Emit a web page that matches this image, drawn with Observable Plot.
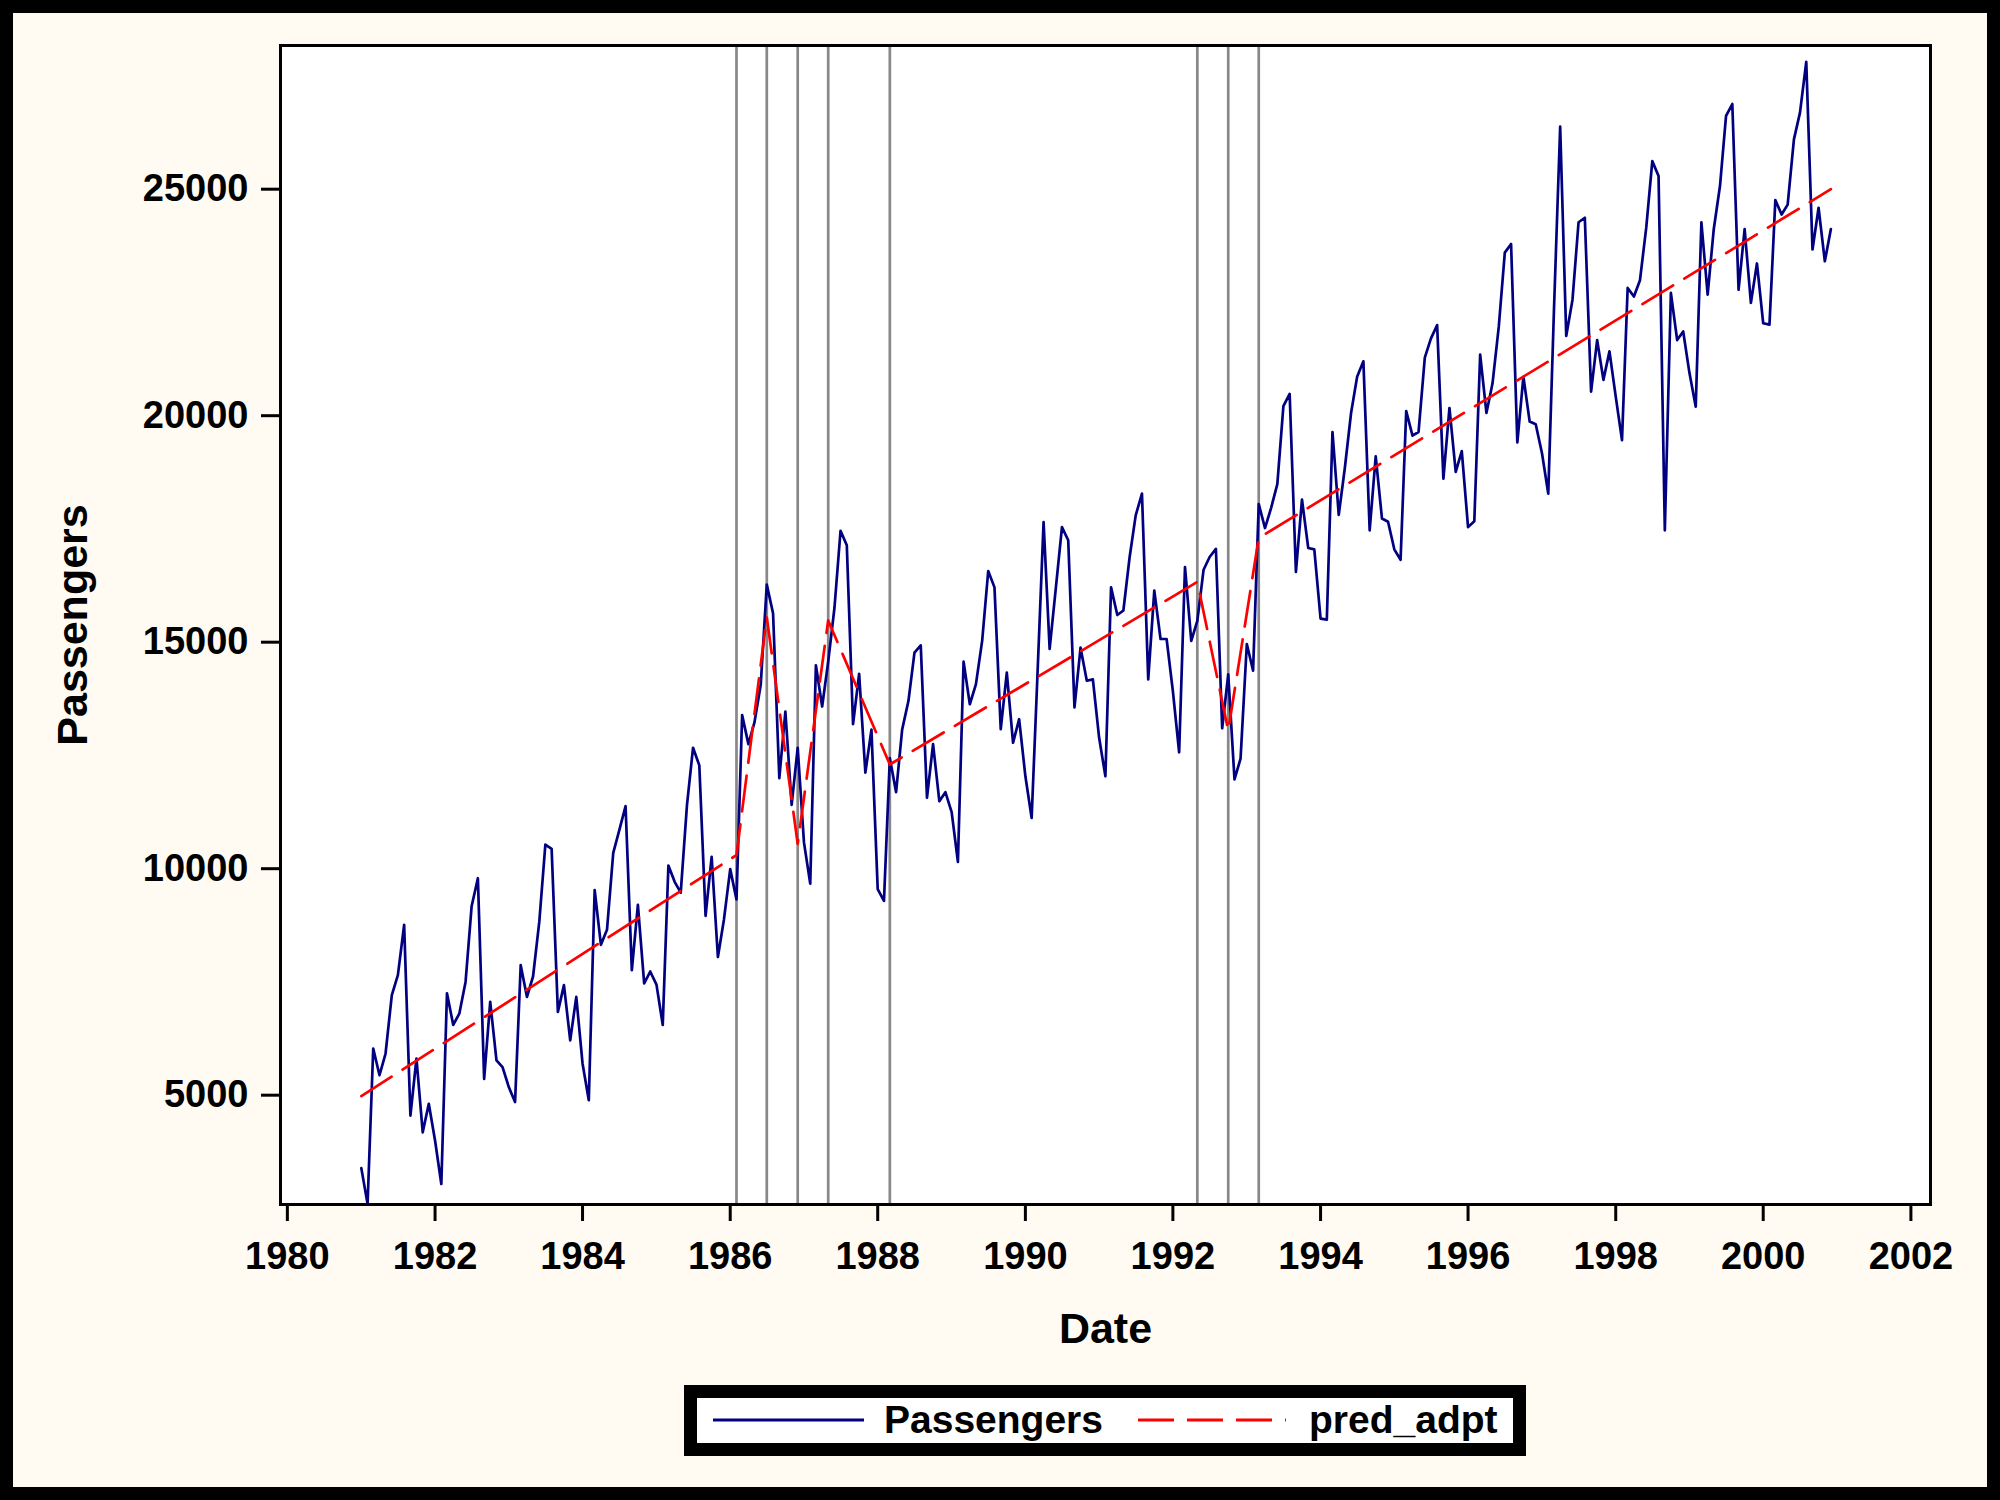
<!DOCTYPE html>
<html>
<head>
<meta charset="utf-8">
<script src="https://cdn.jsdelivr.net/npm/d3@7"></script>
<script src="https://cdn.jsdelivr.net/npm/@observablehq/plot@0.6"></script>
<style>
  html, body { margin: 0; padding: 0; background: #fffbf3; }
  #page { position: relative; width: 2000px; height: 1500px; background: #fffbf3; overflow: hidden;
          font-family: "Liberation Sans", Arial, sans-serif; }
  #chart { position: absolute; left: 0; top: 0; }
  #border { position: absolute; left: 0; top: 0; width: 2000px; height: 1500px; box-sizing: border-box;
            border: 13px solid #000; pointer-events: none; }
  #legend { position: absolute; left: 684px; top: 1385px; width: 842px; height: 71px; box-sizing: border-box;
            border: 13px solid #000; background: #fff; }
  #legend svg { display: block; }
</style>
</head>
<body>
<div id="page">
  <div id="chart"></div>
  <div id="legend"></div>
  <div id="border"></div>
</div>
<script>
// ---- data (monthly, Jan 1981 .. Dec 2000) ----
const startYear = 1981;
const passengers = [
  3390, 2600, 6030, 5440, 5920, 7210, 7650, 8760, 4550, 5810, 4180, 4810,   // 1981
  4000, 3040, 7250, 6550, 6800, 7500, 9170, 9790, 5360, 7060, 5770, 5620,   // 1982
  5180, 4850, 7870, 7170, 7620, 8830, 10530, 10440, 6840, 7430, 6210, 7170, // 1983
  5700, 4890, 9530, 8320, 8650, 10350, 10850, 11380, 7760, 9200, 7470, 7730, // 1984
  7440, 6550, 10070, 9710, 9470, 11410, 12670, 12280, 8960, 10260, 8050, 8880, // 1985
  9990, 9320, 13390, 12750, 13230, 14060, 16270, 15640, 12000, 13470, 11410, 12670, // 1986
  10580, 9670, 14490, 13580, 14570, 15760, 17460, 17140, 13190, 14300, 12120, 13070, // 1987
  9550, 9290, 12440, 11690, 13070, 13700, 14770, 14930, 11570, 12750, 11490, 11690, // 1988
  11250, 10150, 14570, 13630, 14070, 15030, 16570, 16210, 13080, 14330, 12780, 13300, // 1989
  12040, 11120, 14200, 17650, 14850, 16210, 17540, 17250, 13560, 14880, 14150, 14180, // 1990
  12890, 12040, 16210, 15600, 15700, 16880, 17800, 18280, 14180, 16140, 15070, 15070, // 1991
  13920, 12570, 16660, 15030, 15470, 16600, 16880, 17060, 13100, 14290, 11970, 12430, // 1992
  14960, 14370, 18050, 17520, 17960, 18490, 20210, 20480, 16550, 18150, 17080, 17050, // 1993
  15520, 15500, 19640, 17810, 18840, 20060, 20860, 21200, 17470, 19100, 17730, 17660, // 1994
  17050, 16820, 20100, 19560, 19640, 21280, 21700, 22000, 18610, 20170, 18760, 19220, // 1995
  17540, 17670, 21350, 20060, 20710, 21960, 23600, 23790, 19410, 20860, 19870, 19810, // 1996
  19170, 18280, 22300, 26380, 21760, 22560, 24270, 24370, 20530, 21670, 20790, 21420, // 1997
  20420, 19460, 22820, 22630, 22990, 24150, 25620, 25290, 17470, 22710, 21670, 21860, // 1998
  20940, 20200, 24270, 22670, 24110, 25070, 26620, 26880, 22780, 24120, 22490, 23360, // 1999
  22040, 22010, 24760, 24440, 24660, 26100, 26690, 27810, 23670, 24590, 23410, 24120  // 2000
];

// piecewise-linear adaptive prediction: knot dates [year, month(1-12)] and values
const predKnotDates  = [[1981,1],[1986,2],[1986,7],[1986,12],[1987,5],[1988,3],[1992,5],[1992,10],[1993,3],[2000,12]];
const predKnotValues = [4980, 10300, 15550, 10550, 15480, 12300, 16330, 13050, 17300, 25000];

// change points (vertical reference lines)
const breakDates = [[1986,2],[1986,7],[1986,12],[1987,5],[1988,3],[1992,5],[1992,10],[1993,3]];

const xTickYears = [1980, 1982, 1984, 1986, 1988, 1990, 1992, 1994, 1996, 1998, 2000, 2002];
const yTicks = [5000, 10000, 15000, 20000, 25000];

// ---- build tables ----
const ym = ([y, m]) => new Date(Date.UTC(y, m - 1, 1));
const series = passengers.map((v, i) => ({date: new Date(Date.UTC(startYear, i, 1)), value: v}));
const pred = predKnotDates.map((d, i) => ({date: ym(d), value: predKnotValues[i]}));
const breaks = breakDates.map(ym);
const xTicks = xTickYears.map(y => new Date(Date.UTC(y, 0, 1)));

const font = "'Liberation Sans', Arial, Helvetica, sans-serif";

const chart = Plot.plot({
  width: 2000,
  height: 1380,
  marginLeft: 280,
  marginRight: 70,
  marginTop: 45,
  marginBottom: 176,
  style: {background: "none", fontFamily: font, overflow: "visible", color: "#000"},
  x: {type: "utc", domain: [new Date(Date.UTC(1979, 10, 28)), new Date(Date.UTC(2002, 3, 8))], axis: null},
  y: {domain: [2587, 28172], axis: null},
  marks: [
    Plot.frame({fill: "#fff", stroke: "none"}),
    Plot.ruleX(breaks, {stroke: "#888888", strokeWidth: 2.7}),
    Plot.lineY(series, {x: "date", y: "value", stroke: "#000080", strokeWidth: 2.7, clip: true}),
    Plot.lineY(pred, {x: "date", y: "value", stroke: "#ff0000", strokeWidth: 2.7, strokeDasharray: "36,13", clip: true}),
    Plot.frame({stroke: "#000", strokeWidth: 3}),
    Plot.axisX({ticks: xTicks, tickFormat: d => String(d.getUTCFullYear()), tickSize: 17, tickPadding: 21,
                fontSize: 38, fontWeight: "bold", strokeWidth: 3, label: null}),
    Plot.axisY({ticks: yTicks, tickFormat: d => String(d), tickSize: 19, tickPadding: 13,
                fontSize: 38, fontWeight: "bold", strokeWidth: 3, label: null}),
    Plot.text(["Date"], {frameAnchor: "bottom", lineAnchor: "bottom", dy: 138, fontSize: 43, fontWeight: "bold"}),
    Plot.text(["Passengers"], {frameAnchor: "left", rotate: -90, dx: -194, lineAnchor: "bottom", textAnchor: "middle",
                               fontSize: 43, fontWeight: "bold"})
  ]
});
document.getElementById("chart").appendChild(chart);

// ---- legend ----
const ns = "http://www.w3.org/2000/svg";
const lg = document.createElementNS(ns, "svg");
lg.setAttribute("width", 816);
lg.setAttribute("height", 45);
lg.setAttribute("font-family", font);
lg.innerHTML = `
  <line x1="16" x2="167" y1="22" y2="22" stroke="#000080" stroke-width="3"/>
  <text x="187" y="35" font-size="39" font-weight="bold" fill="#000">Passengers</text>
  <line x1="441" x2="589" y1="22" y2="22" stroke="#ff0000" stroke-width="3" stroke-dasharray="36,13"/>
  <text x="612" y="35" font-size="39" font-weight="bold" fill="#000">pred_adpt</text>`;
document.getElementById("legend").appendChild(lg);
</script>
</body>
</html>
